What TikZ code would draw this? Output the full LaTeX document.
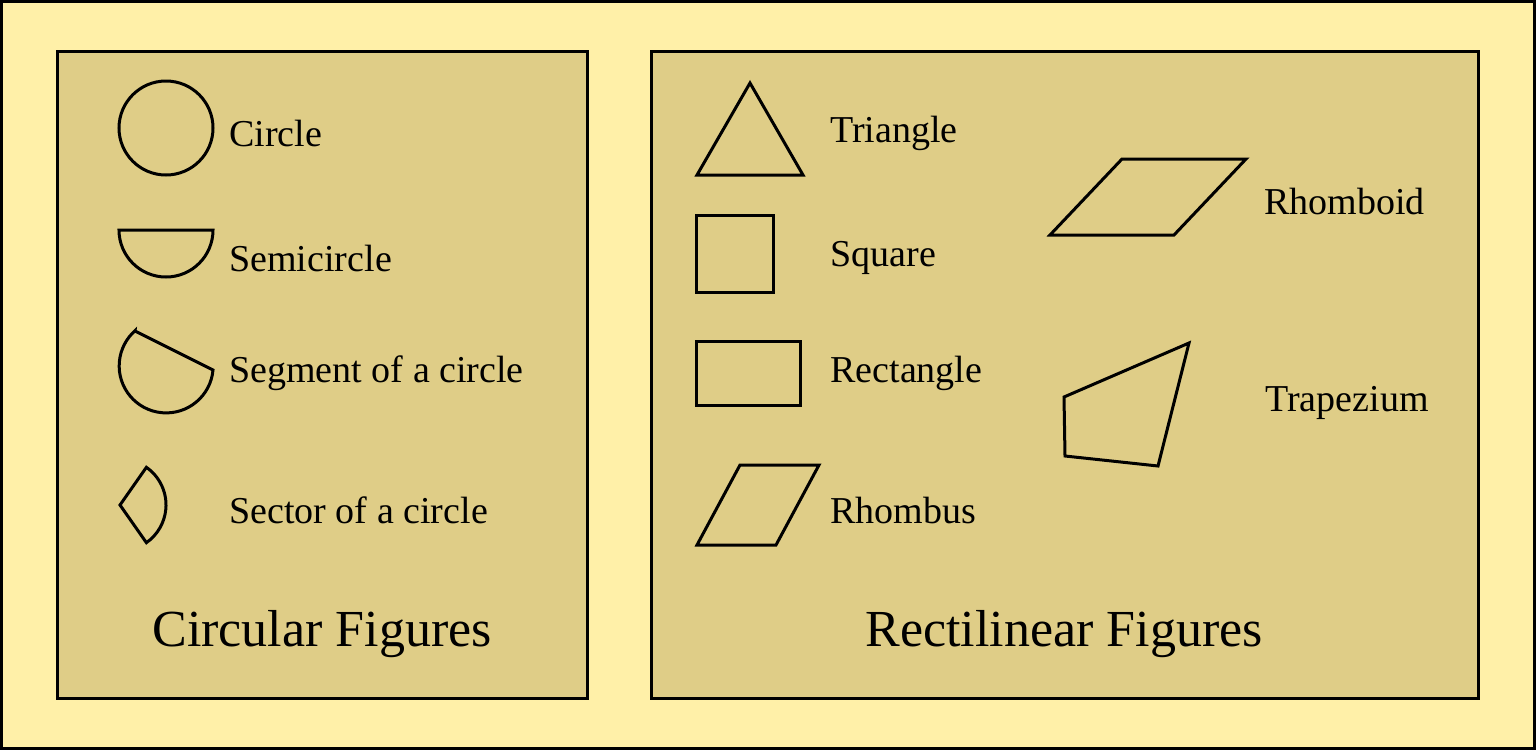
\documentclass[tikz,border=0pt]{standalone}
\usepackage{fontspec}
\setmainfont{Liberation Serif}
\definecolor{bgy}{HTML}{FFF0A8}
\definecolor{pan}{HTML}{DFCD87}
\begin{document}
\begin{tikzpicture}[x=0.5pt,y=-0.5pt,
  shp/.style={draw=black,line width=1.5pt,line join=miter},
  lbl/.style={anchor=west,font=\fontsize{19}{20}\selectfont,inner sep=0pt},
  ttl/.style={font=\fontsize{26}{28}\selectfont,inner sep=0pt}]
\fill[bgy] (0,0) rectangle (1536,750);
\draw[line width=1.5pt] (1.5,1.5) rectangle (1534.5,748.5);
\draw[shp,fill=pan] (57,51) rectangle (587,698);
\draw[shp,fill=pan] (651,51) rectangle (1478,698);
% circular
\draw[shp] (166,128) circle[radius=47];
\draw[shp] (119,230) -- (213,230) arc[start angle=0,end angle=180,radius=47] -- cycle;
\draw[shp] (135,331) -- (213,370) arc[start angle=5,end angle=228.5,radius=47] -- cycle;
\draw[shp] (120,505) -- (146.4,467.3) arc[start angle=-55,end angle=55,radius=46] -- cycle;
\node[lbl] (l1) at (229,133) {Circle};
\node[lbl] (l2) at (229,258) {Semicircle};
\node[lbl] (l3) at (229,373) {Segment of a circle};
\node[lbl] (l4) at (229,510) {Sector of a circle};
\node[ttl] (t1) at (322,634) {Circular Figures};
% rectilinear
\draw[shp] (697,175) -- (750,83) -- (803,175) -- cycle;
\draw[shp] (696,215) rectangle (773,292);
\draw[shp] (696,341) rectangle (800,405);
\draw[shp] (697,545) -- (740,465) -- (819,465) -- (776,545) -- cycle;
\draw[shp] (1050,235) -- (1122,159) -- (1246,159) -- (1174,235) -- cycle;
\draw[shp] (1064,397) -- (1189,343) -- (1158,466) -- (1065,456) -- cycle;
\node[lbl] (r1) at (830,133) {Triangle};
\node[lbl] (r2) at (830,258) {Square};
\node[lbl] (r3) at (830,373) {Rectangle};
\node[lbl] (r4) at (830,510) {Rhombus};
\node[lbl] (r5) at (1264,201) {Rhomboid};
\node[lbl] (r6) at (1265,403) {Trapezium};
\node[ttl] (t2) at (1064,634) {Rectilinear Figures};
\end{tikzpicture}
\end{document}
